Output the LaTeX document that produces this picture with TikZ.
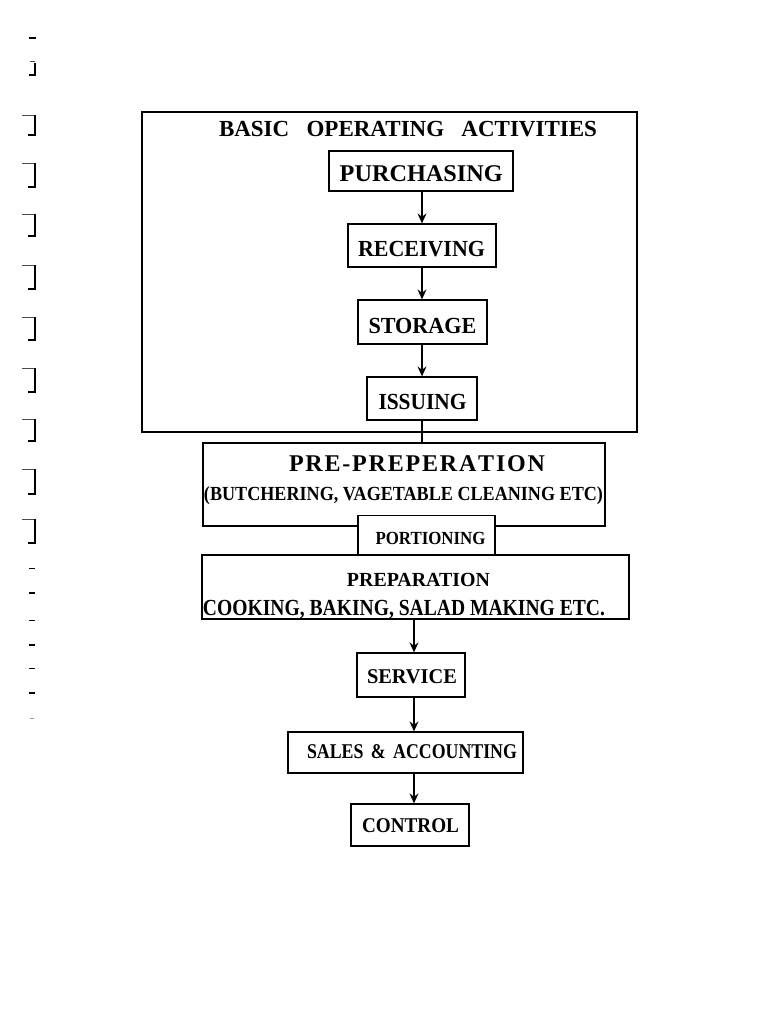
\documentclass[tikz,border=0pt]{standalone}
\usepackage{fontspec}
\setmainfont{Liberation Serif}
\usepackage{graphicx}
\usetikzlibrary{arrows.meta}
\newcommand{\fitT}[3]{\fontsize{#1}{#1}\selectfont\resizebox{#2}{\height}{#3}}
\newcommand{\spT}[3]{\fontsize{#1}{#1}\selectfont\makebox[#2][s]{#3}}
\tikzset{
  lbl/.style={anchor=base, inner sep=0pt, font=\bfseries},
  arr/.style={line width=1.2pt, -{Stealth[length=10pt,width=9pt,inset=3.5pt]}},
  plainln/.style={line width=1.2pt},
  bindmark/.style={line width=1.6pt},
  bindthin/.style={line width=0.9pt, black!70},
}
\newcommand{\bx}[5]{\node[draw, line width=1.3pt, inner sep=0pt, minimum width=#4-#2, minimum height=#5-#3, fill=white] (#1) at ({(#2+#4)/2},{(#3+#5)/2}) {};}
\begin{document}
\begin{tikzpicture}[x=1pt,y=-1pt]
\useasboundingbox (0,0) rectangle (768,1024);
% margin binding marks
\draw[bindmark] (29,38) -- (36,38);
\draw[bindthin] (30,61) -- (35,61);
\draw[bindmark] (35,63) -- (35,75) -- (29,75);
\foreach \t/\b in {115/135,163/187,214/236,265/289,317/340,368/392,419/441,469/494,519/543}{
  \draw[bindthin] (22,\t) -- (35,\t);
  \draw[bindmark] (35,\t) -- (35,\b) -- (28,\b);
}
\foreach \y/\w in {568/1.0,593/1.8,620/1.0,645/1.8,668/1.0,693/1.8}{
  \draw[line width=\w pt] (29,\y) -- (35,\y);
}
\draw[line width=0.8pt, black!40] (30,718) -- (34,718);

% axes
\coordinate (axisA) at (422,0);
\coordinate (axisB) at (414,0);

% boxes
\bx{outer}{142}{112}{637}{432}
\bx{purch}{329}{151}{513}{191}
\bx{recv}{348}{224}{496}{267}
\bx{stor}{358}{300}{487}{344}
\bx{issu}{367}{377}{477}{420}
\bx{prepre}{203}{443}{605}{526}
\bx{prep}{202}{555}{629}{619}
\bx{port}{358}{515.7}{495}{555}
\bx{serv}{357}{653}{465}{697}
\bx{sales}{288}{732}{523}{773}
\bx{ctrl}{351}{804}{469}{846}

% texts
\node[lbl] (tTitle) at (408,136.5) {\spT{23pt}{378pt}{BASIC\hfil OPERATING\hfil ACTIVITIES}};
\node[lbl] (tPurch) at (421.2,181.7) {\fitT{24pt}{163pt}{PURCHASING}};
\node[lbl] (tRecv) at (421.5,256.5) {\fitT{23pt}{127pt}{RECEIVING}};
\node[lbl] (tStor) at (422.5,333.5) {\fitT{23pt}{108pt}{STORAGE}};
\node[lbl] (tIssu) at (422.5,409.5) {\fitT{23pt}{88pt}{ISSUING}};
\node[lbl] (tPrePre) at (417,471.9) {\spT{24pt}{256pt}{P\hfil R\hfil E\hfil -\hfil P\hfil R\hfil E\hfil P\hfil E\hfil R\hfil A\hfil T\hfil I\hfil O\hfil N}};
\node[lbl] (tButch) at (403.5,500.6) {\fitT{20pt}{399pt}{(BUTCHERING, VAGETABLE CLEANING ETC)}};
\node[lbl] (tPort) at (430.5,544.3) {\fitT{18.5pt}{110pt}{PORTIONING}};
\node[lbl] (tPrep) at (418.5,586.6) {\fitT{20pt}{143pt}{PREPARATION}};
\node[lbl] (tCook) at (404,615.5) {\fitT{23pt}{402pt}{COOKING, BAKING, SALAD MAKING ETC.}};
\node[lbl] (tServ) at (412,683.9) {\fitT{21pt}{90pt}{SERVICE}};
\node[lbl] (tSales) at (412,758.9) {\fitT{21pt}{210pt}{SALES \,\& \,ACCOUNTING}};
\node[lbl] (tCtrl) at (410.5,832.9) {\fitT{21pt}{97pt}{CONTROL}};

% connectors
\draw[arr] (purch.south -| axisA) -- (recv.north -| axisA);
\draw[arr] (recv.south -| axisA) -- (stor.north -| axisA);
\draw[arr] (stor.south -| axisA) -- (issu.north -| axisA);
\draw[plainln] (issu.south -| axisA) -- (prepre.north -| axisA);
\draw[arr] (prep.south -| axisB) -- (serv.north -| axisB);
\draw[arr] (serv.south -| axisB) -- (sales.north -| axisB);
\draw[arr] (sales.south -| axisB) -- (ctrl.north -| axisB);
\end{tikzpicture}
\end{document}
